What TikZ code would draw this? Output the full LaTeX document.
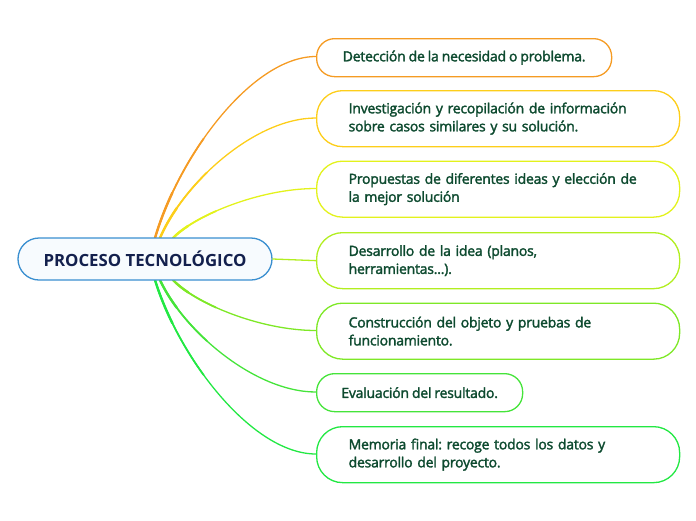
\documentclass[tikz,border=0pt]{standalone}
\usepackage{fontspec}
\setmainfont{Open Sans}
\newfontfamily\kidfont{Open Sans}[LetterSpace=-1.6, WordSpace=0.85, RawFeature={embolden=2}]
\usetikzlibrary{calc}
\frenchspacing
\definecolor{txtgreen}{HTML}{0D4A2F}
\definecolor{txtnavy}{HTML}{13204D}
\definecolor{cblue}{HTML}{3A8FD0}
\definecolor{cfill}{HTML}{F7FBFE}
\definecolor{k1}{HTML}{F59B23}
\definecolor{k2}{HTML}{FDCE1A}
\definecolor{k3}{HTML}{E3F21C}
\definecolor{k4}{HTML}{B2EE20}
\definecolor{k5}{HTML}{7EE826}
\definecolor{k6}{HTML}{45E43A}
\definecolor{k7}{HTML}{22E843}
\tikzset{
  x=1pt, y=-1pt,
  centre/.style={draw=cblue, fill=cfill, line width=1.3pt, rounded corners=21pt,
    minimum width=254pt, minimum height=42pt, inner sep=0pt,
    font=\fontsize{16.8}{19}\selectfont\bfseries, text=txtnavy},
  tall/.style={draw=#1, fill=white, line width=1.3pt, rounded corners=26pt,
    anchor=north west, minimum height=56pt, inner xsep=32pt, inner ysep=0pt,
    text width=299pt, align=left, font=\kidfont\fontsize{14}{18}\selectfont, text=txtgreen},
  short/.style={draw=#1, fill=white, line width=1.3pt, rounded corners=18pt,
    anchor=north west, minimum height=38pt, inner xsep=22pt, inner ysep=0pt,
    font=\kidfont\fontsize{14}{18}\selectfont, text=txtgreen},
  link/.style={draw=#1, line width=1.3pt, line cap=round},
}
% tapered mind-map link: start, offset of first control, offset of second control, end, colour
\newcommand\mmlink[5]{%
  \coordinate (A) at (#1);
  \coordinate (B) at ($(#1)+(#2)$);
  \coordinate (C) at ($(#4)+(#3)$);
  \coordinate (D) at (#4);
  \draw[link=#5] (A) .. controls (B) and (C) .. (D);
  \foreach \tt/\ww in {0.4/1.8pt, 0.18/2.4pt}{%
    \coordinate (AB) at ($(A)!\tt!(B)$);
    \coordinate (BC) at ($(B)!\tt!(C)$);
    \coordinate (CD) at ($(C)!\tt!(D)$);
    \coordinate (ABC) at ($(AB)!\tt!(BC)$);
    \coordinate (BCD) at ($(BC)!\tt!(CD)$);
    \coordinate (M) at ($(ABC)!\tt!(BCD)$);
    \draw[link=#5, line width=\ww] (A) .. controls (AB) and (ABC) .. (M);
  }%
}
\begin{document}
\begin{tikzpicture}
\useasboundingbox (0,0) rectangle (696,520);
\coordinate (s1) at (155,238);
\coordinate (s2) at (160,238);
\coordinate (s3) at (173,238);
\coordinate (s5) at (173,280);
\coordinate (s6) at (160,280);
\coordinate (s7) at (155,280);
\mmlink{s1}{24,-82}{-64,0}{316,56.5}{k1}
\mmlink{s2}{23,-54}{-62,0}{316,118}{k2}
\mmlink{s3}{21,-22}{-57,0}{316,188.5}{k3}
\mmlink{s5}{21,22.5}{-57,0}{316,330.5}{k5}
\mmlink{s6}{23,50}{-62,0}{316,392}{k6}
\mmlink{s7}{24,78}{-64,0}{316,454}{k7}
\node[centre] (c) at (145,259) {PROCESO TECNOLÓGICO};
\node[short=k1, minimum width=295pt] (n1) at (316,38) {Detección de la necesidad o problema.};
\node[tall=k2] (n2) at (316,90) {Investigación y recopilación de información\\sobre casos similares y su solución.};
\node[tall=k3] (n3) at (316,160.5) {Propuestas de diferentes ideas y elección de\\la mejor solución};
\node[tall=k4] (n4) at (316,232) {Desarrollo de la idea (planos,\\herramientas...).};
\node[tall=k5] (n5) at (316,302.5) {Construcción del objeto y pruebas de\\funcionamiento.};
\node[short=k6, minimum width=206pt] (n6) at (316,373) {Evaluación del resultado.};
\node[tall=k7] (n7) at (316,426) {Memoria final: recoge todos los datos y\\desarrollo del proyecto.};
\draw[link=k4] (c.east) -- (n4.west);
\end{tikzpicture}
\end{document}
